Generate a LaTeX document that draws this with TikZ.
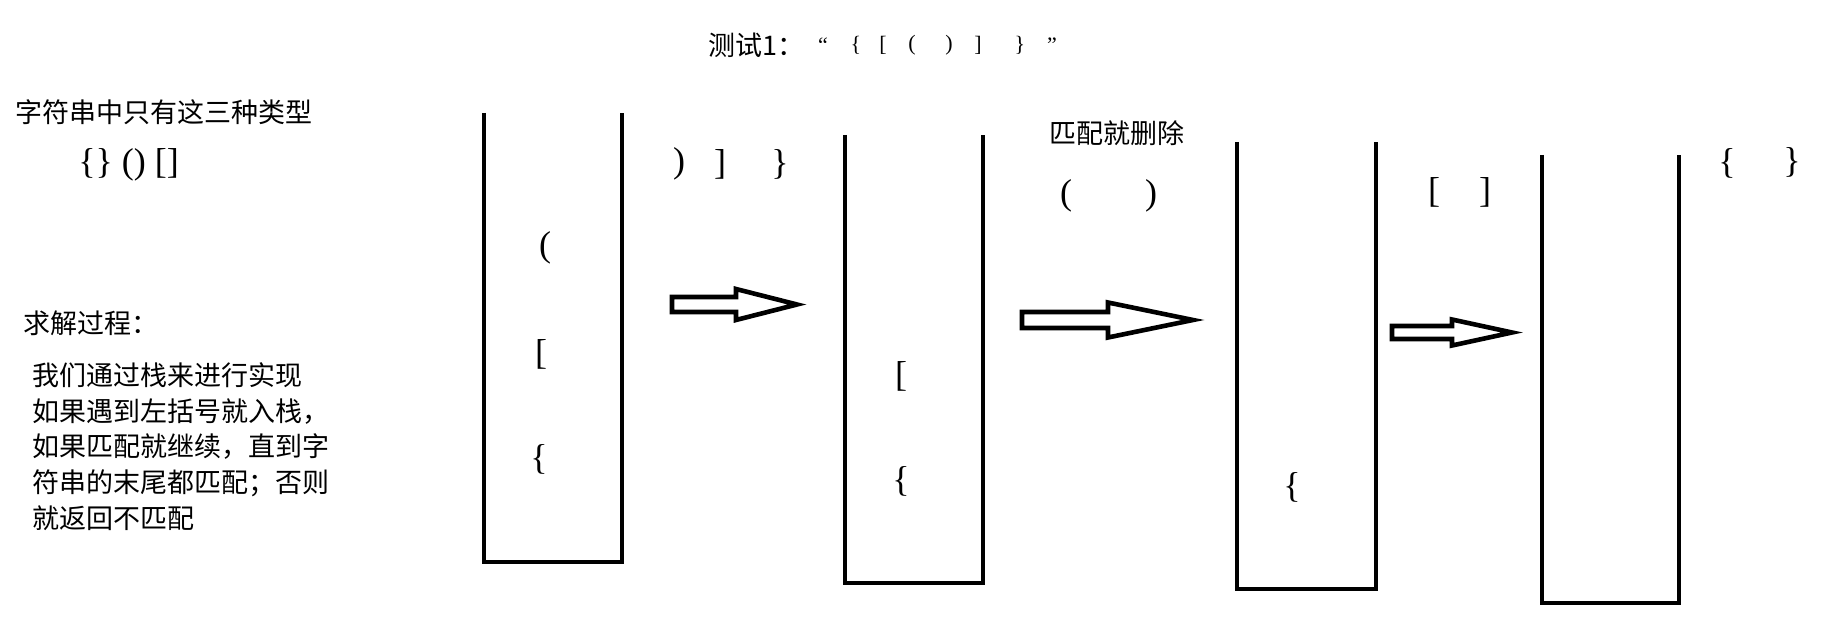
\documentclass[tikz,border=0pt]{standalone}
\usepackage{fontspec}
\setmainfont{Liberation Serif}
\newfontfamily\cjk{Noto Sans CJK SC}
\tikzset{
  stackwall/.style={line width=2.3pt, line join=miter},
  bigarrow/.style={line width=2.3pt, line join=miter},
  cjktext/.style={font=\cjk\fontsize{13.5pt}{18pt}\selectfont, inner sep=0pt},
  brk/.style={font=\fontsize{18pt}{20pt}\selectfont, inner sep=0pt},
  smallbrk/.style={font=\fontsize{11pt}{13pt}\selectfont, inner sep=0pt},
}
\begin{document}
\begin{tikzpicture}[x=0.5pt,y=-0.5pt]
\useasboundingbox (0,0) rectangle (1843,620);
% title line
\node[cjktext,anchor=west] (title) at (708,45) {测试1：};
\foreach \x/\c [count=\i] in {823/``,856/\{,883/[,912/(,949/),978/],1020/\},1052/''} {
  \node[smallbrk] (t\i) at (\x,45) {\c};
}
% left side text
\node[cjktext,anchor=west] (types) at (15,112) {字符串中只有这三种类型};
\node[brk,anchor=west] (kinds) at (78,165) {\{\} () []};
\node[cjktext,anchor=west] (solve) at (23,323) {求解过程：};
\foreach \y/\s [count=\i] in {375/我们通过栈来进行实现,412/如果遇到左括号就入栈，,447/如果匹配就继续，直到字,483/符串的末尾都匹配；否则,518/就返回不匹配} {
  \node[cjktext,anchor=west] (line\i) at (32,\y) {\s};
}
% the four stacks
\foreach \l/\r/\t/\b [count=\i] in {484/622/113/562,845/983/135/583,1237/1376/142/589,1542/1679/155/603} {
  \draw[stackwall] (\l,\t) -- (\l,\b) -- (\r,\b) -- (\r,\t);
}
% brackets inside the stacks
\foreach \x/\y/\c [count=\i] in {545/248/(,541/354/[,539/459/\{,901/376/[,901/481/\{,1292/487/\{} {
  \node[brk] (in\i) at (\x,\y) {\c};
}
% brackets outside the stacks
\foreach \x/\y/\c [count=\i] in {679/164/),720/164/],780/164/\},1066/196/(,1151/196/),1434/192/[,1485/192/],1727/163/\{,1792/162/\}} {
  \node[brk] (out\i) at (\x,\y) {\c};
}
\node[cjktext] (del) at (1117,133) {匹配就删除};
% block arrows
\foreach \a/\h/\e/\y/\w/\v in {672/736/797/304.5/7.5/15.5,1022/1108/1193/320/8/17.5,1392/1452/1512/332.5/6.5/13} {
  \draw[bigarrow] (\a,\y-\w) -- (\h,\y-\w) -- (\h,\y-\v) -- (\e,\y)
    -- (\h,\y+\v) -- (\h,\y+\w) -- (\a,\y+\w) -- cycle;
}
\end{tikzpicture}
\end{document}
